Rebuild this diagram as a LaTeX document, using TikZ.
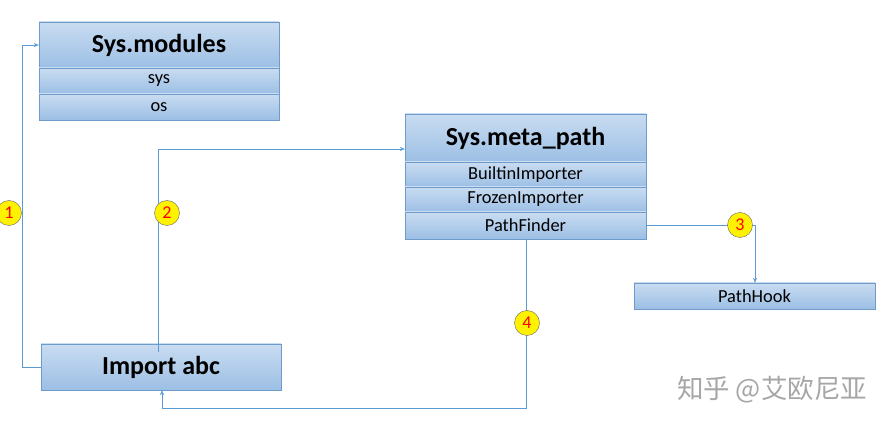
\documentclass[tikz,border=0pt]{standalone}
\usepackage{fontspec}
\setmainfont{Carlito}
\newfontfamily\cjk{Noto Sans CJK SC}
\usetikzlibrary{arrows.meta}
\definecolor{bd}{HTML}{6F9BCB}
\definecolor{tp}{HTML}{C9DCF1}
\definecolor{bt}{HTML}{9CBFE5}
\definecolor{ln}{HTML}{5B9BD5}
\begin{document}
\begin{tikzpicture}[x=1pt,y=-1pt,
 box/.style={draw=bd,top color=tp,bottom color=bt,minimum height=#1,inner sep=0pt},
 hd/.style={font=\bfseries\fontsize{26}{28}\selectfont},
 it/.style={font=\fontsize{18.4}{20}\selectfont},
 con/.style={draw=ln,-{Stealth[length=5pt,width=4pt]}},
 num/.style={circle,draw=black!60,fill=yellow,text=red,minimum size=25pt,inner sep=0pt,font=\fontsize{18}{20}\selectfont}]
\useasboundingbox (0,0) rectangle (891,427);
% Sys.modules
\node[box=46pt,minimum width=240pt,hd] (sm) at (159,45) {Sys.modules};
\node[box=26pt,minimum width=240pt,it] (sys) at (159,81) {sys};
\node[box=26pt,minimum width=240pt,it] (os) at (159,107) {os};
% meta path
\node[box=48pt,minimum width=241pt,hd] (mp) at (525.5,138) {Sys.meta\_path};
\node[box=25pt,minimum width=241pt,it] (bi) at (525.5,174.5) {BuiltinImporter};
\node[box=25pt,minimum width=241pt,it] (fi) at (525.5,199.5) {FrozenImporter};
\node[box=27pt,minimum width=241pt,it] (pf) at (525.5,225.5) {PathFinder};
\node[box=26pt,minimum width=241pt,it] (ph) at (754.5,296) {PathHook};
\node[box=46pt,minimum width=240pt,hd] (ia) at (161,367) {Import abc};
% connectors
\coordinate (c1a) at (22,367); \coordinate (c1b) at (22,45);
\draw[con] (ia.west) -- (c1a) -- (c1b) -- (sm.west);
\coordinate (c2s) at (158,352); \coordinate (c2a) at (158,149);
\draw[con] (c2s) -- (c2a) -- (c2a -| mp.west);
\coordinate (c3a) at (755,225.5);
\draw[con] (pf.east) -- (c3a) -- (c3a |- ph.north);
\coordinate (c4s) at (526,239); \coordinate (c4a) at (526,408); \coordinate (c4b) at (162,408);
\draw[con] (c4s) -- (c4a) -- (c4b) -- (c4b |- ia.south);
\node[num] (n1) at (9,213) {1};
\node[num] (n2) at (167,213) {2};
\node[num] (n3) at (740,225) {3};
\node[num] (n4) at (527,323) {4};
\node[text=black!35,font=\cjk\fontsize{26.5}{28}\selectfont,anchor=center] (wm) at (772,390) {知乎 @艾欧尼亚};
\end{tikzpicture}
\end{document}
